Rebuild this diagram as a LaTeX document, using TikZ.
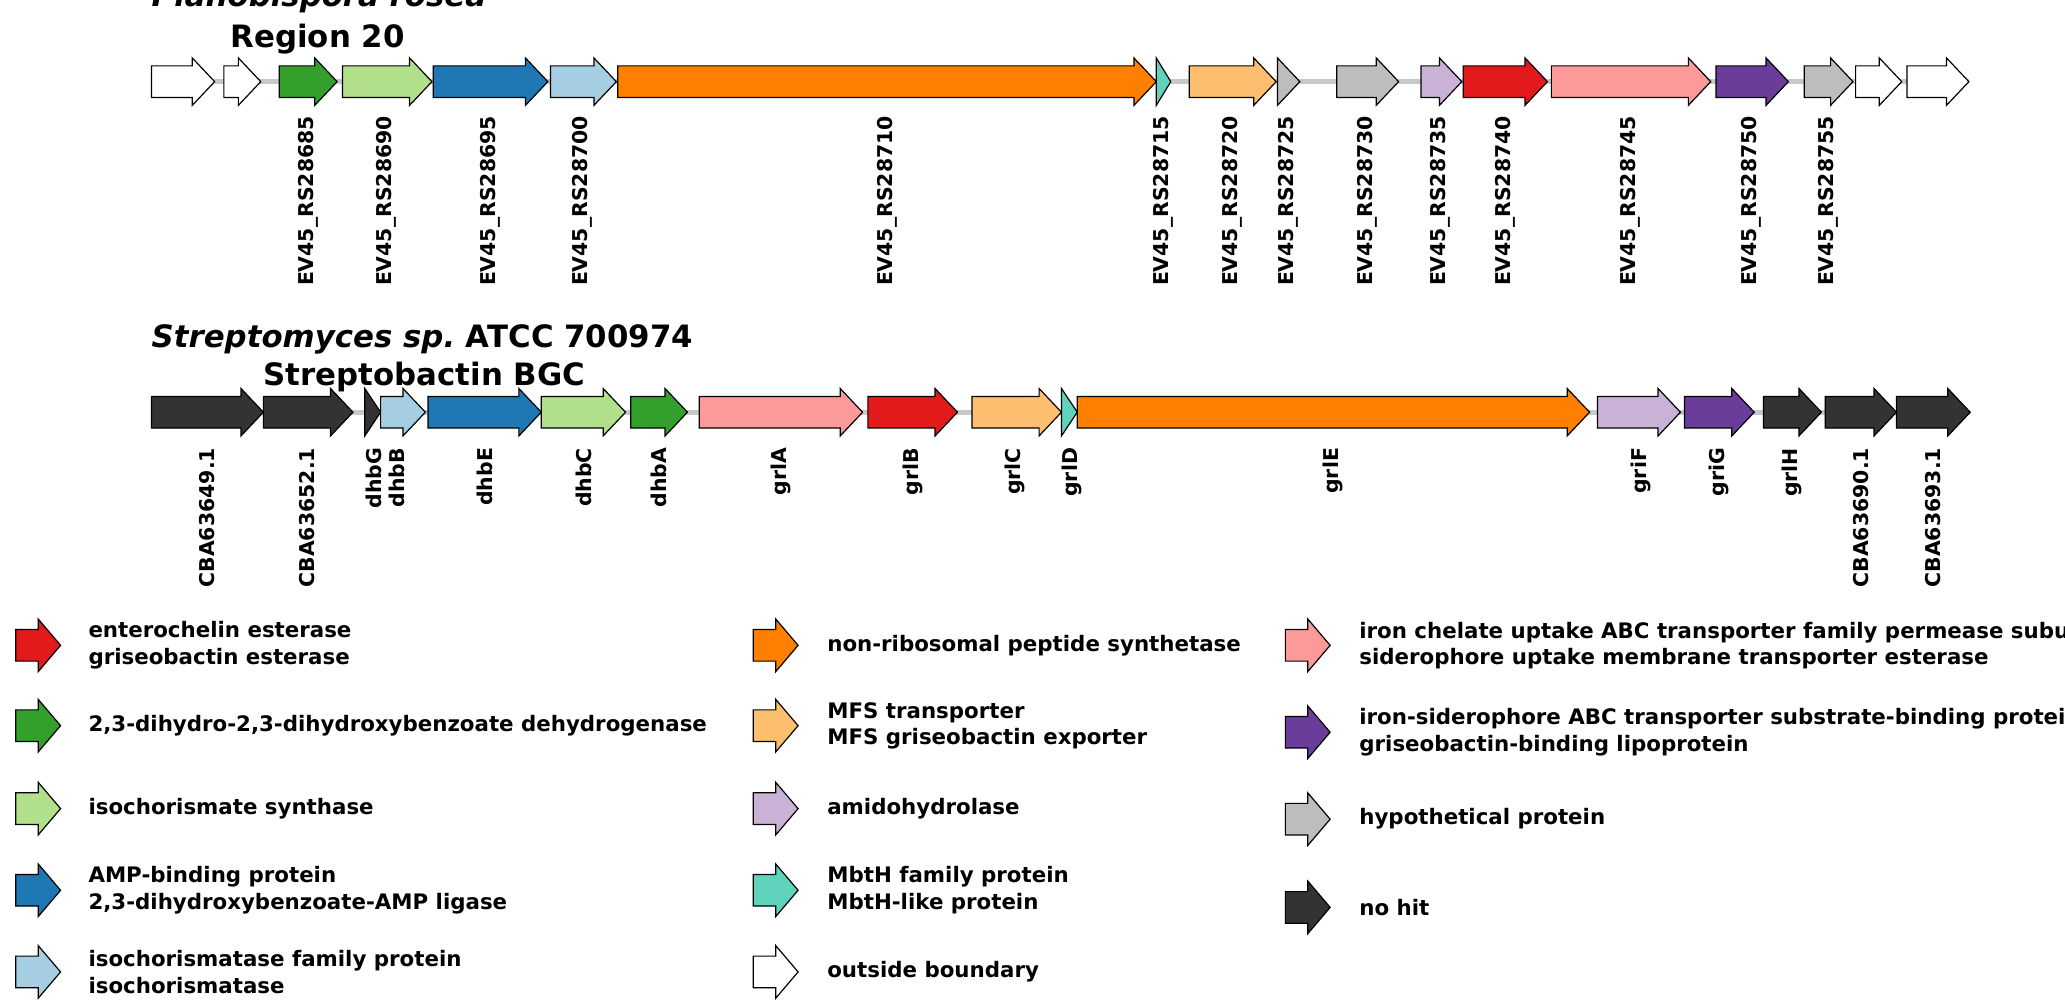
\documentclass[tikz,border=0pt]{standalone}
\usepackage{fontspec}
\setmainfont{DejaVu Sans}
\begin{document}
\definecolor{cRed}{HTML}{E31A1C}
\definecolor{cGreen}{HTML}{33A02C}
\definecolor{cLGreen}{HTML}{B2DF8A}
\definecolor{cBlue}{HTML}{1F78B4}
\definecolor{cLBlue}{HTML}{A6CEE3}
\definecolor{cOrange}{HTML}{FF7F00}
\definecolor{cLOrange}{HTML}{FDBF6F}
\definecolor{cLilac}{HTML}{CAB2D6}
\definecolor{cPurple}{HTML}{6A3D9A}
\definecolor{cPink}{HTML}{FB9A99}
\definecolor{cTeal}{HTML}{5FD3BC}
\definecolor{cGray}{HTML}{BDBDBD}
\definecolor{cBlack}{HTML}{333333}
\definecolor{cLine}{HTML}{C8C8C8}
\newcommand{\gn}[4]{%
 \pgfmathsetmacro\hx{max(#1,#2-17)}%
 \draw[gene, fill=#4] (#1,#3+12) -- (\hx,#3+12) -- (\hx,#3+18) -- (#2,#3) -- (\hx,#3-18) -- (\hx,#3-12) -- (#1,#3-12) -- cycle;}
\newcommand{\lgicon}[3]{%
 \draw[gene, fill=#3] (#1,#2+12) -- (#1+17,#2+12) -- (#1+17,#2+20) -- (#1+34,#2) -- (#1+17,#2-20) -- (#1+17,#2-12) -- (#1,#2-12) -- cycle;}
\begin{tikzpicture}[x=1pt,y=1pt,
  gene/.style={draw=black, line width=0.9pt, line join=miter},
  backbone/.style={draw=cLine, line width=4pt},
  lab/.style={rotate=90, anchor=east, font=\bfseries\fontsize{15.5}{17}\selectfont, inner sep=0pt},
  leg/.style={anchor=west, align=left, font=\bfseries\fontsize{16.2}{20}\selectfont, inner sep=0pt},
  ttl/.style={anchor=base west, font=\bfseries\fontsize{23.4}{26}\selectfont, inner sep=0pt}]
\useasboundingbox (0,0) rectangle (1568,-760);
\clip (0,0) rectangle (1568,-760);
% ---- top row
\node[ttl] (t1) at (115,-5) {\itshape Planobispora rosea};
\node[ttl] (t2) at (175,-36) {Region 20};
\draw[backbone] (115,-62) -- (1495,-62);
\gn{115}{163}{-62}{white}
\gn{170}{198}{-62}{white}
\gn{212}{256}{-62}{cGreen}
\gn{260}{328}{-62}{cLGreen}
\gn{329}{416}{-62}{cBlue}
\gn{418}{468}{-62}{cLBlue}
\gn{469}{878}{-62}{cOrange}
\gn{878}{889}{-62}{cTeal}
\gn{903}{969}{-62}{cLOrange}
\gn{970}{987}{-62}{cGray}
\gn{1015}{1062}{-62}{cGray}
\gn{1079}{1110}{-62}{cLilac}
\gn{1111}{1175}{-62}{cRed}
\gn{1178}{1299}{-62}{cPink}
\gn{1303}{1358}{-62}{cPurple}
\gn{1370}{1407}{-62}{cGray}
\gn{1409}{1444}{-62}{white}
\gn{1448}{1495}{-62}{white}
\node[lab] (a1) at (234,-88) {EV45\_RS28685};
\node[lab] (a2) at (293,-88) {EV45\_RS28690};
\node[lab] (a3) at (372,-88) {EV45\_RS28695};
\node[lab] (a4) at (442,-88) {EV45\_RS28700};
\node[lab] (a5) at (674,-88) {EV45\_RS28710};
\node[lab] (a6) at (883,-88) {EV45\_RS28715};
\node[lab] (a7) at (936,-88) {EV45\_RS28720};
\node[lab] (a8) at (978,-88) {EV45\_RS28725};
\node[lab] (a9) at (1038,-88) {EV45\_RS28730};
\node[lab] (a10) at (1094,-88) {EV45\_RS28735};
\node[lab] (a11) at (1143,-88) {EV45\_RS28740};
\node[lab] (a12) at (1238,-88) {EV45\_RS28745};
\node[lab] (a13) at (1330,-88) {EV45\_RS28750};
\node[lab] (a14) at (1388,-88) {EV45\_RS28755};
% ---- bottom row
\node[ttl] (t3) at (115,-264) {\itshape Streptomyces sp.\ \upshape ATCC 700974};
\node[ttl] (t4) at (200,-293) {Streptobactin BGC};
\draw[backbone] (115,-313) -- (1496,-313);
\gn{115}{200}{-313}{cBlack}
\gn{200}{268}{-313}{cBlack}
\gn{277}{289}{-313}{cBlack}
\gn{289}{323}{-313}{cLBlue}
\gn{325}{411}{-313}{cBlue}
\gn{411}{475}{-313}{cLGreen}
\gn{479}{522}{-313}{cGreen}
\gn{531}{655}{-313}{cPink}
\gn{659}{727}{-313}{cRed}
\gn{738}{806}{-313}{cLOrange}
\gn{806}{818}{-313}{cTeal}
\gn{818}{1207}{-313}{cOrange}
\gn{1213}{1276}{-313}{cLilac}
\gn{1279}{1332}{-313}{cPurple}
\gn{1339}{1383}{-313}{cBlack}
\gn{1386}{1440}{-313}{cBlack}
\gn{1440}{1496}{-313}{cBlack}
\node[lab] (b1) at (157,-340) {CBA63649.1};
\node[lab] (b2) at (233,-340) {CBA63652.1};
\node[lab] (b3) at (284,-340) {dhbG};
\node[lab] (b4) at (301,-340) {dhbB};
\node[lab] (b5) at (368,-340) {dhbE};
\node[lab] (b6) at (443,-340) {dhbC};
\node[lab] (b7) at (500,-340) {dhbA};
\node[lab] (b8) at (593,-340) {grlA};
\node[lab] (b9) at (693,-340) {grlB};
\node[lab] (b10) at (771,-340) {grlC};
\node[lab] (b11) at (814,-340) {grlD};
\node[lab] (b12) at (1012,-340) {grlE};
\node[lab] (b13) at (1246,-340) {griF};
\node[lab] (b14) at (1305,-340) {griG};
\node[lab] (b15) at (1361,-340) {grlH};
\node[lab] (b16) at (1413,-340) {CBA63690.1};
\node[lab] (b17) at (1468,-340) {CBA63693.1};
% ---- legend
\lgicon{12}{-490}{cRed}
\node[leg] (l1) at (67,-490) {enterochelin esterase\\griseobactin esterase};
\lgicon{12}{-551}{cGreen}
\node[leg] (l2) at (67,-551) {2,3-dihydro-2,3-dihydroxybenzoate dehydrogenase};
\lgicon{12}{-614}{cLGreen}
\node[leg] (l3) at (67,-614) {isochorismate synthase};
\lgicon{12}{-676}{cBlue}
\node[leg] (l4) at (67,-676) {AMP-binding protein\\2,3-dihydroxybenzoate-AMP ligase};
\lgicon{12}{-738}{cLBlue}
\node[leg] (l5) at (67,-738) {isochorismatase family protein\\isochorismatase};
\lgicon{572}{-490}{cOrange}
\node[leg] (l6) at (628,-490) {non-ribosomal peptide synthetase};
\lgicon{572}{-551}{cLOrange}
\node[leg] (l7) at (628,-551) {MFS transporter\\MFS griseobactin exporter};
\lgicon{572}{-614}{cLilac}
\node[leg] (l8) at (628,-614) {amidohydrolase};
\lgicon{572}{-676}{cTeal}
\node[leg] (l9) at (628,-676) {MbtH family protein\\MbtH-like protein};
\lgicon{572}{-738}{white}
\node[leg] (l10) at (628,-738) {outside boundary};
\lgicon{976}{-490}{cPink}
\node[leg] (l11) at (1032,-490) {iron chelate uptake ABC transporter family permease subunit\\siderophore uptake membrane transporter esterase};
\lgicon{976}{-556}{cPurple}
\node[leg] (l12) at (1032,-556) {iron-siderophore ABC transporter substrate-binding protein\\griseobactin-binding lipoprotein};
\lgicon{976}{-622}{cGray}
\node[leg] (l13) at (1032,-622) {hypothetical protein};
\lgicon{976}{-689}{cBlack}
\node[leg] (l14) at (1032,-689) {no hit};
\end{tikzpicture}
\end{document}
